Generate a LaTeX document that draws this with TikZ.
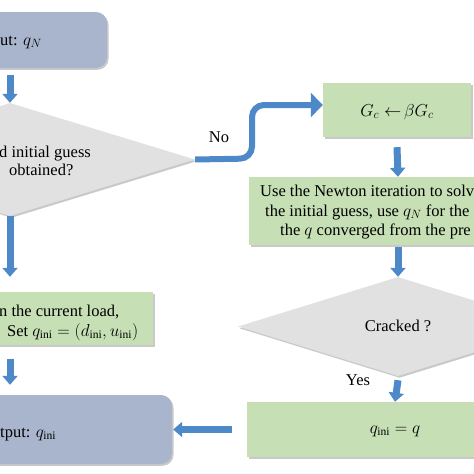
\documentclass[tikz,border=0pt]{standalone}
\usepackage{fontspec}
\setmainfont{Liberation Serif}
\usetikzlibrary{arrows.meta,shapes.geometric,shadows}
\definecolor{arrblue}{HTML}{4D89C8}
\definecolor{boxgreen}{HTML}{C6DFB4}
\definecolor{boxgray}{HTML}{A9B5CC}
\definecolor{diagray}{HTML}{E1E1E1}
\begin{document}
\begin{tikzpicture}[x=1pt,y=-1pt,
  txt/.style={font=\fontsize{16.5}{19.5}\selectfont, inner sep=0pt},
  shd/.style={drop shadow={shadow xshift=1.5pt,shadow yshift=-1.8pt,opacity=0.35,fill=black!60}},
  greenbox/.style={shd, fill=boxgreen, draw=none, inner sep=0pt},
  graybox/.style={shd, fill=boxgray, draw=none, inner sep=0pt, rounded corners=11pt},
  decision/.style={shd, diamond, fill=diagray, draw=none, inner sep=0pt, shape aspect=3},
  arr/.style={draw=arrblue, line width=7pt, -{Triangle[width=15pt,length=9pt]}},
  bigarr/.style={draw=arrblue, line width=6pt, rounded corners=12pt, -{Triangle[width=24pt,length=12pt]}},
  lbl/.style={font=\fontsize{16.5}{19.5}\selectfont, inner sep=0pt}]
\useasboundingbox (0,0) rectangle (474,474);
\clip (0,0) rectangle (474,474);
\fill[white] (0,0) rectangle (474,474);

% left column
\node[graybox, minimum width=194pt, minimum height=56pt] (inbox) at (10,40) {};
\node[txt, anchor=base west] (intext) at (0,45) {ut: $q_N$};

\node[decision, minimum width=370pt, minimum height=113pt] (d1) at (10,159.5) {};
\node[txt, anchor=base west] (d1a) at (-1,157) {d initial guess};
\node[txt, anchor=base west] (d1b) at (9,175) {obtained?};

\node[greenbox, minimum width=286pt, minimum height=53pt] (gbox) at (10,318.5) {};
\node[txt, anchor=base west] (g1) at (-1,316) {n the current load,};
\node[txt, anchor=base west] (g2) at (7,336) {Set $q_{\mathrm{ini}}=(d_{\mathrm{ini}},u_{\mathrm{ini}})$};

\node[graybox, minimum width=324pt, minimum height=69pt] (outbox) at (10,429.5) {};
\node[txt, anchor=base west] (outtext) at (0,437) {tput: $q_{\mathrm{ini}}$};

% right column
\node[greenbox, minimum width=148pt, minimum height=54pt] (gc) at (397,110) {};
\node[txt] (gctext) at (397,112) {$G_c\;{\leftarrow}\,\beta G_c$};

\node[greenbox, minimum width=298pt, minimum height=68pt] (newton) at (398,211) {};
\node[txt, anchor=north west, align=left] (ntext) at (260,185)
  {Use the Newton iteration to solv\\
   \hspace{5pt}the initial guess, use $q_N$ for the\\
   \hspace{20pt}the $q$ converged from the pre};

\node[decision, minimum width=320pt, minimum height=99pt] (d2) at (398,326.5) {};
\node[txt] (d2text) at (398,326) {Cracked ?};

\node[greenbox, minimum width=296pt, minimum height=55pt] (qbox) at (395,429.5) {};
\node[txt] (qtext) at (395,431) {$q_{\mathrm{ini}} = q$};

% labels
\node[lbl] (no) at (219,137) {No};
\node[lbl] (yes) at (358,380) {Yes};

% connectors
\draw[arr] ([yshift=-7pt]inbox.south) -- (d1.north);
\draw[arr] (d1.south) -- ([yshift=15pt]gbox.north);
\draw[arr] ([yshift=-14pt]gbox.south) -- ([yshift=10pt]outbox.north);
\coordinate (b1) at (252,158.5);
\coordinate (b2) at (252,105);
\coordinate (gcin) at (gc.west |- b2);
\draw[bigarr] (d1.east) -- (b1) -- (b2) -- (gcin);
\draw[arr] ([yshift=-10pt]gc.south) -- (newton.north);
\draw[arr] ([yshift=-2pt]newton.south) -- (d2.north);
\draw[arr] ([yshift=-4pt]d2.south) -- (qbox.north);
\draw[arr] ([xshift=-15pt]qbox.west) -- ([xshift=1pt]outbox.east);
\end{tikzpicture}
\end{document}
